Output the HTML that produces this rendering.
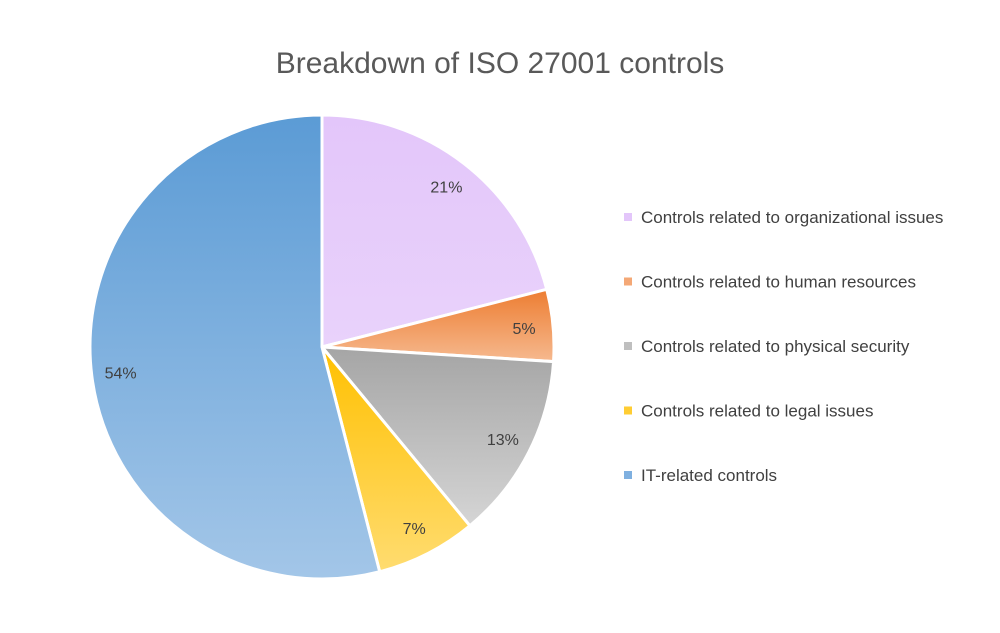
<!DOCTYPE html>
<html><head><meta charset="utf-8"><style>
body{margin:0;background:#fff;font-family:"Liberation Sans",sans-serif}
</style></head><body>
<svg width="1000" height="628" viewBox="0 0 1000 628">
<defs>
<linearGradient id="g0" x1="0" y1="0" x2="0" y2="1"><stop offset="0" stop-color="#e3c6fa"/><stop offset="1" stop-color="#e9d2fb"/></linearGradient>
<linearGradient id="g1" x1="0" y1="0" x2="0" y2="1"><stop offset="0" stop-color="#ed7d31"/><stop offset="1" stop-color="#f6b98f"/></linearGradient>
<linearGradient id="g2" x1="0" y1="0" x2="0" y2="1"><stop offset="0" stop-color="#a5a5a5"/><stop offset="1" stop-color="#d5d5d5"/></linearGradient>
<linearGradient id="g3" x1="0" y1="0" x2="0" y2="1"><stop offset="0" stop-color="#ffc000"/><stop offset="1" stop-color="#ffdc70"/></linearGradient>
<linearGradient id="g4" x1="0" y1="0" x2="0" y2="1"><stop offset="0" stop-color="#5b9bd5"/><stop offset="1" stop-color="#a3c6e8"/></linearGradient>
</defs>
<text x="500" y="73" text-anchor="middle" font-size="30" fill="#595959">Breakdown of ISO 27001 controls</text>
<g id="pie"></g>
<g id="legend"></g>
</svg>
<script>
const categories=["Controls related to organizational issues","Controls related to human resources","Controls related to physical security","Controls related to legal issues","IT-related controls"];
const values=[21,5,13,7,54];
const labels=["21%","5%","13%","7%","54%"];
const fills=["url(#g0)","url(#g1)","url(#g2)","url(#g3)","url(#g4)"];
const legendColors=["#e3c6fa","#f4a876","#bfbfbf","#ffcd33","#7fb0e0"];
const NS="http://www.w3.org/2000/svg";
const cx=322,cy=347,r=232;
const total=values.reduce((a,b)=>a+b,0);
const pie=document.getElementById('pie'),leg=document.getElementById('legend');
function pt(a,rr){return [cx+rr*Math.sin(a),cy-rr*Math.cos(a)];}
let acc=0;
values.forEach((v,i)=>{
 const a0=acc/total*2*Math.PI;acc+=v;const a1=acc/total*2*Math.PI;
 const p0=pt(a0,r),p1=pt(a1,r);
 const p=document.createElementNS(NS,'path');
 p.setAttribute('d',`M${cx},${cy}L${p0[0]},${p0[1]}A${r},${r} 0 ${a1-a0>Math.PI?1:0} 1 ${p1[0]},${p1[1]}Z`);
 p.setAttribute('fill',fills[i]);p.setAttribute('stroke','#fff');p.setAttribute('stroke-width','3');
 
 
 pie.appendChild(p);
 const lp=pt((a0+a1)/2,r*0.875);
 const t=document.createElementNS(NS,'text');
 t.setAttribute('x',lp[0]);t.setAttribute('y',lp[1]+6);t.setAttribute('text-anchor','middle');
 t.setAttribute('font-size','16');t.setAttribute('fill','#404040');t.textContent=labels[i];
 
 
 pie.appendChild(t);
 const y=217+i*64.5;
 const g=document.createElementNS(NS,'g');
 
 
 const s=document.createElementNS(NS,'rect');
 s.setAttribute('x',624);s.setAttribute('y',y-4);s.setAttribute('width',8);s.setAttribute('height',8);s.setAttribute('fill',legendColors[i]);
 const lt=document.createElementNS(NS,'text');
 lt.setAttribute('x',641);lt.setAttribute('y',y+6);lt.setAttribute('font-size','17');lt.setAttribute('fill','#404040');lt.textContent=categories[i];
 g.appendChild(s);g.appendChild(lt);leg.appendChild(g);
});
</script>
</body></html>
